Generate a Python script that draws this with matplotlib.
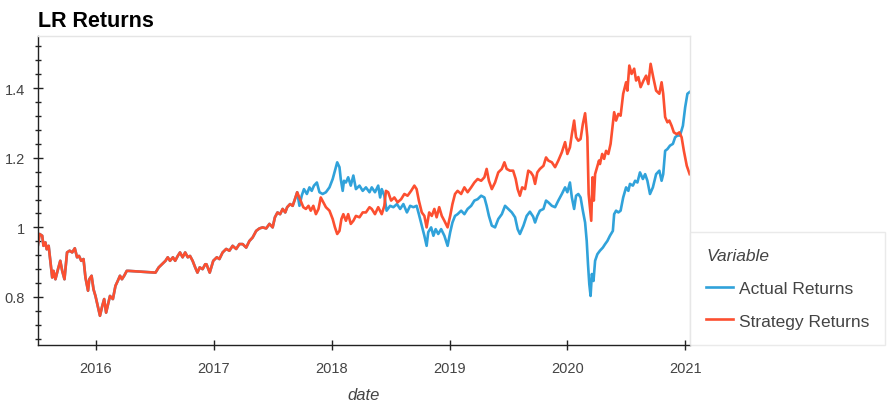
import matplotlib
matplotlib.use("Agg")
import matplotlib.pyplot as plt
import matplotlib.dates as mdates
from matplotlib.ticker import MultipleLocator, FuncFormatter
import pandas as pd

plt.rcParams['font.family'] = ['Liberation Sans', 'DejaVu Sans']

# both series run together until autumn 2017
shared_dates = [
    '2015-07-06', '2015-07-11', '2015-07-19', '2015-07-23', '2015-07-29', '2015-08-02',
    '2015-08-08', '2015-08-12', '2015-08-19', '2015-08-23', '2015-08-29', '2015-09-06',
    '2015-09-13', '2015-09-19', '2015-09-26', '2015-10-04', '2015-10-12', '2015-10-20',
    '2015-10-28', '2015-11-04', '2015-11-10', '2015-11-17', '2015-11-24', '2015-11-30',
    '2015-12-08', '2015-12-12', '2015-12-19', '2015-12-25', '2015-12-31', '2016-01-07',
    '2016-01-14', '2016-01-21', '2016-01-27', '2016-02-02', '2016-02-08', '2016-02-14',
    '2016-02-23', '2016-03-02', '2016-03-09', '2016-03-16', '2016-03-22', '2016-03-29',
    '2016-04-06', '2016-04-12', '2016-07-04', '2016-07-14', '2016-07-24', '2016-08-04',
    '2016-08-11', '2016-08-18', '2016-08-27', '2016-09-03', '2016-09-11', '2016-09-18',
    '2016-09-26', '2016-10-04', '2016-10-12', '2016-10-19', '2016-10-27', '2016-11-04',
    '2016-11-11', '2016-11-18', '2016-11-27', '2016-12-05', '2016-12-09', '2016-12-19',
    '2016-12-30', '2017-01-10', '2017-01-18', '2017-01-28', '2017-02-08', '2017-02-18',
    '2017-02-28', '2017-03-11', '2017-03-21', '2017-03-31', '2017-04-11', '2017-04-21',
    '2017-05-01', '2017-05-12', '2017-05-22', '2017-06-01', '2017-06-12', '2017-06-22',
    '2017-07-02', '2017-07-09', '2017-07-17', '2017-07-25', '2017-08-02', '2017-08-10',
    '2017-08-16', '2017-08-25', '2017-09-02', '2017-09-09', '2017-09-16',
]
shared_vals = [
    0.950, 0.981, 0.976, 0.947, 0.957, 0.937,
    0.947, 0.914, 0.856, 0.875, 0.851, 0.880,
    0.904, 0.875, 0.851, 0.928, 0.933, 0.928,
    0.940, 0.914, 0.918, 0.904, 0.909, 0.856,
    0.818, 0.851, 0.861, 0.822, 0.803, 0.774,
    0.746, 0.774, 0.794, 0.755, 0.779, 0.803,
    0.794, 0.832, 0.846, 0.861, 0.851, 0.861,
    0.875, 0.875, 0.870, 0.885, 0.894, 0.904,
    0.914, 0.904, 0.914, 0.904, 0.918, 0.928,
    0.914, 0.928, 0.914, 0.918, 0.904, 0.885,
    0.870, 0.885, 0.880, 0.894, 0.894, 0.870,
    0.904, 0.914, 0.909, 0.928, 0.938, 0.933,
    0.947, 0.938, 0.952, 0.952, 0.942, 0.961,
    0.971, 0.990, 0.997, 1.000, 0.997, 1.010,
    1.000, 1.029, 1.043, 1.038, 1.053, 1.043,
    1.058, 1.067, 1.062, 1.081, 1.101,
]

actual_dates = [
    '2017-09-23', '2017-09-30', '2017-10-07', '2017-10-16', '2017-10-24', '2017-10-31',
    '2017-11-07', '2017-11-16', '2017-11-24', '2017-12-04', '2017-12-14', '2017-12-25',
    '2018-01-04', '2018-01-11', '2018-01-18', '2018-01-25', '2018-01-29', '2018-02-04',
    '2018-02-08', '2018-02-14', '2018-02-21', '2018-03-01', '2018-03-09', '2018-03-17',
    '2018-03-28', '2018-04-07', '2018-04-17', '2018-04-28', '2018-05-05', '2018-05-15',
    '2018-05-25', '2018-05-31', '2018-06-05', '2018-06-13', '2018-06-20', '2018-07-01',
    '2018-07-11', '2018-07-22', '2018-08-01', '2018-08-11', '2018-08-22', '2018-09-01',
    '2018-09-11', '2018-09-21', '2018-09-28', '2018-10-07', '2018-10-15', '2018-10-22',
    '2018-10-27', '2018-11-05', '2018-11-12', '2018-11-19', '2018-11-27', '2018-12-06',
    '2018-12-16', '2018-12-26', '2019-01-03', '2019-01-10', '2019-01-18', '2019-01-26',
    '2019-02-06', '2019-02-16', '2019-02-26', '2019-03-09', '2019-03-19', '2019-03-29',
    '2019-04-09', '2019-04-19', '2019-04-26', '2019-05-03', '2019-05-12', '2019-05-22',
    '2019-06-01', '2019-06-12', '2019-06-22', '2019-07-02', '2019-07-13', '2019-07-23',
    '2019-07-31', '2019-08-07', '2019-08-18', '2019-08-28', '2019-09-07', '2019-09-17',
    '2019-09-23', '2019-09-30', '2019-10-08', '2019-10-19', '2019-10-27', '2019-11-03',
    '2019-11-14', '2019-11-24', '2019-12-04', '2019-12-15', '2019-12-25', '2020-01-01',
    '2020-01-09', '2020-01-15', '2020-01-22', '2020-01-28', '2020-02-04', '2020-02-11',
    '2020-02-18', '2020-02-25', '2020-03-01', '2020-03-05', '2020-03-09', '2020-03-13',
    '2020-03-17', '2020-03-22', '2020-03-27', '2020-04-03', '2020-04-11', '2020-04-20',
    '2020-04-27', '2020-05-04', '2020-05-12', '2020-05-21', '2020-05-25', '2020-05-31',
    '2020-06-07', '2020-06-14', '2020-06-22', '2020-07-01', '2020-07-08', '2020-07-13',
    '2020-07-22', '2020-07-29', '2020-08-05', '2020-08-13', '2020-08-22', '2020-08-29',
    '2020-09-05', '2020-09-13', '2020-09-22', '2020-10-02', '2020-10-12', '2020-10-19',
    '2020-10-24', '2020-10-30', '2020-11-06', '2020-11-14', '2020-11-23', '2020-11-30',
    '2020-12-07', '2020-12-15', '2020-12-24', '2020-12-31', '2021-01-07', '2021-01-14',
]
actual_vals = [
    1.062, 1.091, 1.110, 1.096, 1.115, 1.105,
    1.120, 1.129, 1.101, 1.096, 1.101, 1.115,
    1.139, 1.163, 1.187, 1.173, 1.139, 1.105,
    1.134, 1.129, 1.144, 1.120, 1.149, 1.110,
    1.120, 1.105, 1.115, 1.101, 1.115, 1.101,
    1.120, 1.086, 1.110, 1.091, 1.048, 1.062,
    1.058, 1.067, 1.053, 1.067, 1.043, 1.062,
    1.058, 1.062, 1.038, 1.005, 0.976, 0.947,
    0.986, 1.000, 0.976, 0.995, 0.981, 0.995,
    0.976, 0.947, 0.986, 1.014, 1.033, 1.038,
    1.048, 1.038, 1.053, 1.062, 1.077, 1.081,
    1.091, 1.086, 1.062, 1.033, 1.005, 1.000,
    1.024, 1.038, 1.062, 1.053, 1.043, 1.029,
    0.995, 0.981, 1.005, 1.033, 1.045, 1.031,
    1.014, 1.033, 1.048, 1.053, 1.077, 1.072,
    1.062, 1.058, 1.077, 1.096, 1.115, 1.101,
    1.129, 1.086, 1.053, 1.091, 1.096, 1.086,
    1.048, 1.014, 0.961, 0.894, 0.837, 0.803,
    0.866, 0.846, 0.904, 0.923, 0.933, 0.942,
    0.952, 0.961, 0.976, 0.990, 1.038, 1.048,
    1.043, 1.048, 1.086, 1.115, 1.105, 1.125,
    1.120, 1.134, 1.129, 1.158, 1.139, 1.153,
    1.134, 1.096, 1.115, 1.153, 1.163, 1.134,
    1.153, 1.220, 1.225, 1.235, 1.240, 1.259,
    1.264, 1.264, 1.292, 1.345, 1.384, 1.389,
]

strategy_dates = [
    '2017-09-25', '2017-10-05', '2017-10-13', '2017-10-21', '2017-10-28', '2017-11-05',
    '2017-11-13', '2017-11-21', '2017-11-28', '2017-12-06', '2017-12-14', '2017-12-25',
    '2018-01-04', '2018-01-11', '2018-01-18', '2018-01-25', '2018-01-31', '2018-02-06',
    '2018-02-14', '2018-02-21', '2018-03-01', '2018-03-09', '2018-03-17', '2018-03-28',
    '2018-04-07', '2018-04-17', '2018-04-28', '2018-05-05', '2018-05-15', '2018-05-25',
    '2018-06-05', '2018-06-13', '2018-06-18', '2018-06-25', '2018-07-04', '2018-07-14',
    '2018-07-24', '2018-08-04', '2018-08-14', '2018-08-24', '2018-09-04', '2018-09-14',
    '2018-09-21', '2018-09-28', '2018-10-07', '2018-10-15', '2018-10-22', '2018-10-30',
    '2018-11-07', '2018-11-15', '2018-11-22', '2018-11-30', '2018-12-08', '2018-12-16',
    '2018-12-26', '2019-01-03', '2019-01-10', '2019-01-18', '2019-01-26', '2019-02-06',
    '2019-02-16', '2019-02-26', '2019-03-09', '2019-03-19', '2019-03-29', '2019-04-09',
    '2019-04-19', '2019-04-26', '2019-05-03', '2019-05-12', '2019-05-22', '2019-06-01',
    '2019-06-12', '2019-06-20', '2019-06-27', '2019-07-07', '2019-07-17', '2019-07-25',
    '2019-07-31', '2019-08-07', '2019-08-14', '2019-08-23', '2019-09-02', '2019-09-10',
    '2019-09-17', '2019-09-23', '2019-09-30', '2019-10-08', '2019-10-19', '2019-10-27',
    '2019-11-03', '2019-11-14', '2019-11-24', '2019-12-04', '2019-12-15', '2019-12-25',
    '2020-01-01', '2020-01-09', '2020-01-15', '2020-01-22', '2020-01-28', '2020-02-04',
    '2020-02-11', '2020-02-18', '2020-02-25', '2020-03-03', '2020-03-07', '2020-03-11',
    '2020-03-15', '2020-03-19', '2020-03-23', '2020-03-27', '2020-04-02', '2020-04-08',
    '2020-04-11', '2020-04-18', '2020-04-24', '2020-04-30', '2020-05-07', '2020-05-14',
    '2020-05-21', '2020-05-25', '2020-05-31', '2020-06-07', '2020-06-14', '2020-06-22',
    '2020-07-01', '2020-07-05', '2020-07-11', '2020-07-18', '2020-07-26', '2020-08-01',
    '2020-08-08', '2020-08-15', '2020-08-24', '2020-09-01', '2020-09-08', '2020-09-15',
    '2020-09-23', '2020-10-02', '2020-10-12', '2020-10-19', '2020-10-24', '2020-10-30',
    '2020-11-06', '2020-11-12', '2020-11-19', '2020-11-26', '2020-12-05', '2020-12-13',
    '2020-12-20', '2020-12-27', '2021-01-05', '2021-01-14',
]
strategy_vals = [
    1.081, 1.058, 1.053, 1.062, 1.048, 1.062,
    1.038, 1.053, 1.086, 1.072, 1.058, 1.048,
    1.024, 1.000, 0.981, 0.990, 1.024, 1.038,
    1.019, 1.038, 1.010, 1.019, 1.033, 1.029,
    1.043, 1.043, 1.058, 1.053, 1.038, 1.058,
    1.038, 1.062, 1.105, 1.101, 1.077, 1.086,
    1.072, 1.081, 1.096, 1.091, 1.105, 1.120,
    1.110, 1.077, 1.043, 1.033, 1.000, 1.043,
    1.033, 1.053, 1.029, 1.058, 1.033, 1.019,
    1.000, 1.033, 1.067, 1.096, 1.105, 1.096,
    1.115, 1.101, 1.115, 1.129, 1.139, 1.134,
    1.144, 1.168, 1.134, 1.110, 1.129, 1.158,
    1.168, 1.187, 1.168, 1.163, 1.163, 1.139,
    1.110, 1.091, 1.115, 1.110, 1.163, 1.158,
    1.148, 1.125, 1.158, 1.168, 1.177, 1.201,
    1.192, 1.187, 1.173, 1.192, 1.216, 1.245,
    1.211, 1.230, 1.268, 1.307, 1.259, 1.249,
    1.254, 1.297, 1.328, 1.259, 1.096, 1.058,
    1.019, 1.144, 1.077, 1.153, 1.173, 1.192,
    1.182, 1.211, 1.197, 1.220, 1.211, 1.240,
    1.297, 1.331, 1.307, 1.326, 1.321, 1.384,
    1.417, 1.393, 1.465, 1.441, 1.456, 1.422,
    1.432, 1.403, 1.422, 1.436, 1.412, 1.470,
    1.432, 1.393, 1.384, 1.417, 1.384, 1.317,
    1.302, 1.307, 1.292, 1.273, 1.268, 1.273,
    1.259, 1.220, 1.177, 1.153,
]

series = {
    'Actual Returns': (shared_dates + actual_dates, shared_vals + actual_vals, '#30a2da'),
    'Strategy Returns': (shared_dates + strategy_dates, shared_vals + strategy_vals, '#fc4f30'),
}

fig = plt.figure(figsize=(8.91, 4.02), dpi=100)
ax = fig.add_axes([38 / 891, 1 - 346 / 402, 652 / 891, 309 / 402])

handles = []
for name, (d, v, c) in series.items():
    ln, = ax.plot(pd.to_datetime(d), v, color=c, lw=1.9, label=name,
                  solid_joinstyle='round')
    handles.append(ln)

ax.set_xlim(pd.Timestamp('2015-07-06'), pd.Timestamp('2021-01-15'))
ax.set_ylim(0.662, 1.55)

ax.xaxis.set_major_locator(mdates.YearLocator())
ax.xaxis.set_major_formatter(mdates.DateFormatter('%Y'))
ax.yaxis.set_major_locator(MultipleLocator(0.2))
ax.yaxis.set_minor_locator(MultipleLocator(0.04))
ax.yaxis.set_major_formatter(FuncFormatter(lambda v, p: '{:g}'.format(round(v, 2))))

ax.tick_params(axis='both', which='major', direction='inout', length=7, width=1,
               color='#222222', labelsize=10.5, labelcolor='#444444', pad=6)
ax.tick_params(axis='x', which='major', pad=8)
ax.tick_params(axis='y', which='minor', direction='inout', length=4, width=1,
               color='#222222')

for s in ['left', 'bottom']:
    ax.spines[s].set_color('#222222')
    ax.spines[s].set_linewidth(1)
for s in ['top', 'right']:
    ax.spines[s].set_color('#e5e5e5')
    ax.spines[s].set_linewidth(1)

ax.set_xlabel('date', fontsize=12, style='italic', color='#444444', labelpad=9)
fig.text(38 / 891, 1 - 27 / 402, 'LR Returns', fontsize=15.5, fontweight='bold',
         color='#000000', ha='left', va='baseline')

leg = ax.legend(handles=handles, title='Variable', loc='upper left',
                bbox_to_anchor=(690 / 891, 1 - 233 / 402), bbox_transform=fig.transFigure,
                fontsize=12.5, title_fontsize=12.5, frameon=True, fancybox=False,
                edgecolor='#e5e5e5', borderpad=0.95, labelspacing=1.0,
                handlelength=1.55, handletextpad=0.3, borderaxespad=0)
leg.get_title().set_style('italic')
leg.get_title().set_color('#444444')
leg._legend_box.align = 'left'
for t in leg.get_texts():
    t.set_color('#444444')

fig.savefig('out.png', dpi=100)
